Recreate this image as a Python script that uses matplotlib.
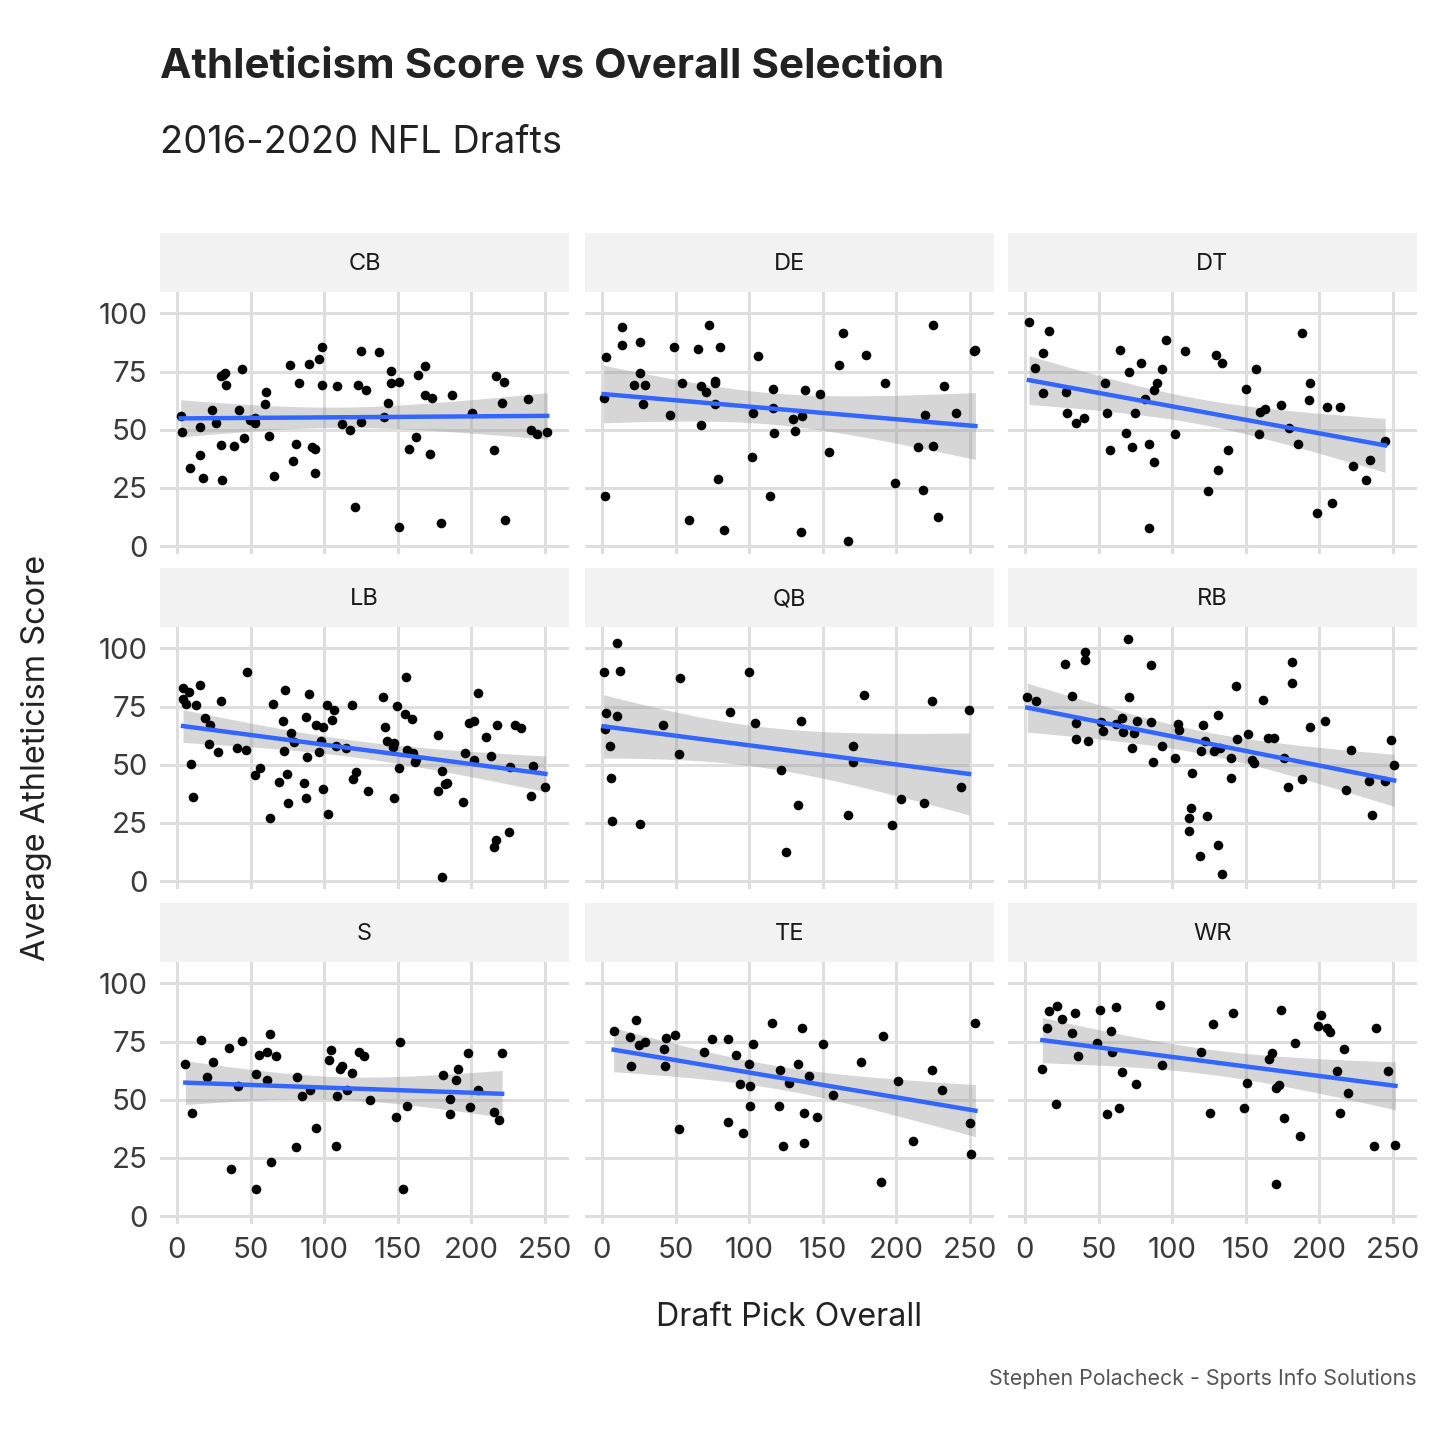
import numpy as np
import matplotlib
matplotlib.use("Agg")
import matplotlib.pyplot as plt

plt.rcParams['font.family'] = ['Inter', 'DejaVu Sans']

# --- data: draft pick overall vs average athleticism score ---
positions = ["CB", "DE", "DT", "LB", "QB", "RB", "S", "TE", "WR"]

cb_pick = [2.5, 3.6, 8.6, 15.4, 15.4, 17.4, 23.5, 26.5, 29.6, 30.3, 29.6, 32.6, 31.2, 33.5, 38.7, 42.1,
           44.3, 45.7, 49.3, 52.7, 52.7, 59.5, 60.6, 62.7, 65.6, 76.7, 78.5, 80.5, 82.8, 89.6, 91.4, 93.7,
           93.7, 96.6, 98.4, 98.6, 108.8, 112.2, 117.6, 120.8, 122.6, 124.7, 125.3, 128.7, 137.3, 140.7,
           143.4, 145.2, 145.2, 150.7, 150.7, 157.5, 162.2, 163.6, 168.6, 168.6, 172.9, 171.7, 179.6,
           186.7, 200.5, 215.6, 216.7, 222.0, 220.8, 222.6, 238.5, 240.5, 244.6, 251.4]
cb_score = [56.1, 49.0, 33.6, 51.1, 39.0, 29.1, 58.6, 52.9, 43.3, 28.3, 72.9, 74.6, 73.7, 69.3, 43.0, 58.7,
            76.1, 46.3, 54.0, 55.0, 53.0, 61.1, 66.1, 47.1, 30.3, 77.7, 36.4, 44.0, 70.3, 78.3, 42.6, 41.7,
            31.6, 80.6, 85.4, 69.4, 68.9, 52.3, 49.7, 16.6, 69.3, 53.3, 83.7, 67.3, 83.4, 55.6,
            61.6, 75.4, 69.9, 70.4, 8.3, 41.7, 47.0, 73.6, 77.6, 64.9, 63.6, 39.7, 10.1,
            64.9, 57.3, 41.3, 73.3, 70.6, 61.7, 11.1, 63.1, 50.0, 48.0, 49.0]

de_pick = [1.1, 2.7, 2.0, 13.8, 13.8, 25.8, 25.8, 21.7, 29.0, 27.8, 45.9, 48.6, 54.1, 59.0, 65.2, 67.2,
           70.4, 67.0, 72.9, 76.7, 76.7, 76.7, 80.1, 79.0, 82.8, 102.0, 102.9, 105.7, 113.8, 116.1, 116.1,
           117.0, 129.6, 131.0, 135.1, 136.0, 137.8, 148.2, 154.1, 160.9, 163.8, 167.2, 179.2, 192.1,
           199.1, 214.7, 217.9, 219.7, 225.1, 225.1, 228.5, 232.6, 240.7, 252.5, 253.6]
de_score = [63.7, 81.1, 21.4, 94.1, 86.4, 87.9, 74.4, 69.1, 69.3, 61.0, 56.4, 85.7, 70.3, 11.1, 84.9, 68.6,
            66.3, 52.1, 95.1, 71.1, 70.0, 60.9, 85.6, 28.7, 7.1, 38.3, 57.4, 81.9, 21.7, 67.7, 59.4,
            48.6, 54.6, 49.6, 6.0, 55.7, 66.9, 65.4, 40.3, 77.9, 91.4, 2.3, 82.1, 69.9,
            27.1, 42.4, 23.9, 56.4, 94.9, 42.9, 12.7, 68.7, 57.4, 83.7, 84.3]

dt_pick = [2.7, 6.8, 12.4, 12.4, 16.5, 27.6, 28.7, 34.4, 39.8, 54.3, 55.7, 57.7, 64.7, 68.8, 70.8, 72.6,
           74.9, 78.5, 81.7, 83.9, 83.9, 87.3, 89.6, 87.3, 92.8, 95.9, 101.8, 108.8, 124.4, 129.9, 133.7,
           130.8, 137.6, 149.8, 157.2, 158.8, 159.7, 162.9, 173.8, 179.6, 185.1, 188.2, 192.8, 193.7,
           198.0, 205.0, 208.6, 213.8, 222.9, 231.7, 234.6, 244.6]
dt_score = [96.3, 76.7, 83.1, 65.7, 92.4, 66.3, 57.3, 52.7, 55.0, 70.1, 57.3, 41.4, 84.1, 48.7, 74.7, 42.4,
            57.3, 78.6, 63.1, 44.0, 7.9, 67.1, 70.0, 36.0, 76.0, 88.6, 48.0, 83.7, 23.7, 82.0, 78.6,
            32.7, 41.1, 67.7, 76.1, 48.1, 57.7, 59.1, 60.6, 50.7, 44.0, 91.7, 62.9, 70.3,
            14.3, 59.9, 18.3, 59.9, 34.6, 28.3, 36.9, 45.1]

lb_pick = [4.1, 7.9, 4.1, 6.3, 12.7, 15.4, 9.3, 11.1, 18.8, 22.4, 21.5, 27.8, 29.6, 40.7, 46.6, 47.5,
           53.2, 56.6, 62.9, 64.9, 71.7, 73.5, 72.4, 77.6, 79.4, 74.7, 69.5, 75.6, 87.3, 89.6, 88.2, 86.4,
           87.3, 94.3, 99.1, 97.7, 96.6, 99.1, 101.6, 106.3, 105.4, 107.7, 102.7, 114.5, 118.6, 121.7,
           119.7, 129.6, 139.8, 141.6, 142.5, 147.3, 146.8, 147.5, 149.3, 150.5, 154.8, 155.7, 156.3,
           159.7, 160.2, 162.0, 161.8, 177.6, 180.3, 177.4, 182.1, 183.7, 180.3, 194.3, 195.5, 198.4,
           201.6, 201.6, 204.5, 210.0, 213.3, 217.4, 215.2, 216.7, 225.3, 226.2, 229.4, 233.9, 240.7,
           241.6, 250.2]
lb_score = [83.1, 81.1, 78.3, 76.1, 75.7, 84.3, 50.4, 36.1, 70.1, 67.1, 59.1, 55.4, 77.4, 57.3, 56.4, 90.0,
            45.7, 48.6, 27.0, 76.3, 68.9, 82.3, 56.0, 63.6, 59.7, 45.9, 42.7, 33.4, 70.7, 80.6, 53.4, 42.3,
            35.6, 66.9, 66.3, 60.1, 55.4, 39.4, 75.9, 73.6, 69.1, 58.0, 28.7, 57.3, 75.9, 46.9,
            43.7, 38.9, 79.0, 66.4, 60.4, 59.3, 57.7, 35.9, 75.3, 48.6, 72.0, 87.6, 56.4,
            69.7, 54.9, 52.6, 51.1, 62.6, 47.4, 38.6, 41.7, 42.3, 1.7, 34.1, 55.0, 68.1,
            68.9, 52.1, 81.0, 62.1, 53.6, 66.9, 14.6, 17.6, 21.1, 49.0, 67.0, 65.9, 36.7,
            49.4, 40.6]

qb_pick = [10.0, 1.1, 12.0, 2.5, 10.0, 2.0, 5.7, 5.9, 6.6, 25.8, 41.6, 52.7, 52.0, 86.9, 99.8, 104.1,
           121.9, 124.7, 132.8, 135.1, 167.0, 170.8, 170.8, 177.8, 196.8, 202.9, 219.0, 223.8, 243.9, 249.3]
qb_score = [102.3, 89.7, 90.3, 72.3, 70.9, 65.3, 57.9, 44.1, 25.9, 24.6, 66.9, 87.1, 54.7, 72.6, 89.7, 68.0,
            47.7, 12.3, 32.9, 68.9, 28.4, 58.1, 51.3, 79.9, 24.1, 35.4, 33.7, 77.3, 40.3, 73.4]

rb_pick = [1.6, 7.7, 26.9, 31.7, 34.6, 34.6, 40.7, 40.7, 42.5, 51.8, 52.7, 61.8, 65.6, 66.7, 69.7, 70.8,
           73.8, 75.8, 72.9, 85.9, 85.9, 86.7, 92.8, 101.8, 103.8, 104.5, 113.3, 112.7, 111.5, 111.5,
           118.8, 120.6, 122.2, 119.5, 123.8, 128.1, 130.8, 131.4, 132.6, 133.7, 139.6, 139.6, 143.0,
           143.9, 151.6, 154.1, 155.4, 161.5, 164.9, 169.0, 176.0, 178.9, 181.4, 181.4, 187.8, 193.9,
           203.6, 217.9, 221.3, 233.5, 236.0, 244.6, 248.9, 250.7]
rb_score = [79.3, 77.3, 93.4, 79.4, 67.9, 61.0, 98.3, 95.0, 60.1, 68.3, 64.3, 67.6, 70.1, 64.0, 104.1, 79.3,
            63.7, 68.6, 57.3, 92.7, 68.3, 51.1, 58.1, 53.1, 67.6, 64.9, 46.6, 31.6, 27.1, 21.6,
            10.6, 67.3, 60.0, 56.1, 28.0, 56.0, 15.6, 71.3, 57.3, 2.9, 52.9, 44.3, 84.0,
            61.1, 63.4, 52.1, 50.7, 77.7, 61.3, 61.7, 53.0, 40.4, 94.3, 85.0, 43.9, 66.3,
            69.0, 39.1, 56.4, 42.9, 28.3, 43.1, 60.6, 49.9]

s_pick = [5.7, 10.4, 16.5, 20.4, 24.4, 35.5, 36.4, 41.6, 44.3, 53.4, 53.4, 55.4, 60.9, 60.9, 62.9, 63.8,
          67.4, 80.5, 81.4, 84.6, 90.5, 94.3, 103.4, 104.5, 107.7, 108.8, 110.4, 112.2, 115.8, 118.6,
          123.3, 127.1, 131.4, 148.6, 151.6, 153.6, 156.3, 180.5, 185.7, 185.7, 189.4, 190.7, 197.7,
          198.9, 204.5, 215.6, 218.6, 220.8]
s_score = [65.3, 44.3, 75.7, 59.9, 66.3, 72.1, 20.3, 55.9, 75.1, 11.7, 61.1, 69.4, 70.6, 58.4, 78.4, 23.1,
           68.9, 29.6, 59.9, 51.6, 54.0, 37.9, 67.1, 71.3, 30.3, 51.7, 63.3, 64.7, 54.1, 61.4,
           70.4, 68.9, 49.9, 42.7, 74.9, 11.7, 47.3, 60.6, 50.3, 44.0, 58.4, 63.3, 70.1,
           46.9, 54.4, 44.6, 41.1, 70.0]

te_pick = [7.9, 19.0, 19.7, 23.1, 24.9, 29.0, 41.9, 43.0, 43.7, 49.8, 52.0, 69.0, 74.7, 85.7, 85.7, 91.2,
           93.7, 95.7, 100.0, 100.7, 100.7, 102.9, 115.2, 119.9, 120.8, 122.9, 126.7, 132.8, 136.0, 136.9,
           136.9, 140.7, 145.9, 149.8, 157.0, 175.8, 189.8, 190.7, 200.9, 210.9, 223.8, 230.8, 250.0,
           250.7, 253.6]
te_score = [79.4, 77.1, 64.3, 84.1, 73.7, 74.7, 71.7, 64.7, 76.6, 78.0, 37.3, 70.4, 76.0, 76.3, 40.4, 69.1,
            56.6, 35.6, 65.3, 56.0, 47.1, 74.1, 83.1, 47.4, 62.6, 30.1, 57.1, 65.3, 80.9, 44.3,
            31.3, 60.0, 42.7, 74.0, 52.0, 66.1, 14.6, 77.4, 58.0, 32.1, 62.7, 54.0, 39.9,
            26.7, 83.1]

wr_pick = [11.8, 14.7, 16.5, 21.7, 21.0, 24.9, 31.7, 33.9, 35.7, 48.6, 50.9, 55.7, 58.6, 58.8, 61.5, 64.0,
           65.6, 75.3, 91.6, 92.8, 119.5, 125.6, 127.8, 141.6, 148.6, 150.5, 165.8, 167.6, 170.4, 172.6,
           170.4, 173.8, 175.8, 183.5, 186.7, 199.1, 200.7, 205.4, 207.0, 211.8, 216.7, 213.6, 219.7,
           236.9, 238.5, 246.6, 251.6]
wr_score = [63.3, 81.0, 88.3, 90.1, 48.0, 84.6, 78.7, 87.4, 68.9, 74.4, 88.4, 43.7, 79.6, 70.6, 89.9, 46.4,
            62.0, 56.6, 90.6, 65.0, 70.4, 44.4, 82.6, 87.1, 46.4, 57.3, 67.4, 69.9, 55.0, 56.4,
            13.9, 88.7, 42.3, 74.6, 34.4, 81.6, 86.4, 80.9, 79.0, 62.3, 72.0, 44.1, 53.1,
            30.1, 80.7, 62.4, 30.7]

picks = [cb_pick, de_pick, dt_pick, lb_pick, qb_pick, rb_pick, s_pick, te_pick, wr_pick]
scores = [cb_score, de_score, dt_score, lb_score, qb_score, rb_score, s_score, te_score, wr_score]

x_ticks = [0, 50, 100, 150, 200, 250]
y_ticks = [0, 25, 50, 75, 100]

# --- layout (pixel boxes on a 1440x1440 canvas) ---
W = 1440.0
col_left = [160, 585, 1008]
col_w = 409
row_top = [292, 627, 962]
row_h = 262
strip_h = 59

text_col = '#222222'
tick_col = '#3a3a3a'
grid_col = '#dedede'

all_x = np.concatenate([np.array(p) for p in picks])
all_y = np.concatenate([np.array(s) for s in scores])
xr = all_x.max() - all_x.min()
yr = all_y.max() - all_y.min()
xlim = (all_x.min() - 0.05 * xr, all_x.max() + 0.05 * xr)
ylim = (all_y.min() - 0.05 * yr, all_y.max() + 0.05 * yr)

fig = plt.figure(figsize=(7.2, 7.2), dpi=200)


def box(left, top, w, h):
    return [left / W, 1 - (top + h) / W, w / W, h / W]


def t975(df):
    # approx 97.5% quantile of Student t
    return 1.95996 + 2.3719 / df + 2.8216 / df ** 2


for i, pos in enumerate(positions):
    r, c = divmod(i, 3)
    x = np.array(picks[i])
    y = np.array(scores[i])

    # strip
    sax = fig.add_axes(box(col_left[c], row_top[r] - strip_h, col_w, strip_h))
    sax.set_facecolor('#f2f2f2')
    sax.set_xticks([])
    sax.set_yticks([])
    for sp in sax.spines.values():
        sp.set_visible(False)
    sax.text(0.5, 0.47, pos, ha='center', va='center', fontsize=8.5, color='#1a1a1a',
             transform=sax.transAxes)

    ax = fig.add_axes(box(col_left[c], row_top[r], col_w, row_h))
    ax.set_xlim(xlim)
    ax.set_ylim(ylim)
    ax.set_xticks(x_ticks)
    ax.set_yticks(y_ticks)
    ax.grid(True, color=grid_col, linewidth=1.1)
    ax.set_axisbelow(True)
    for sp in ax.spines.values():
        sp.set_visible(False)
    ax.tick_params(length=0, labelsize=10.6, colors=tick_col, pad=4.5)
    if c != 0:
        ax.set_yticklabels([])
    if r != 2:
        ax.set_xticklabels([])

    # lm fit with 95% band
    n = len(x)
    b1, b0 = np.polyfit(x, y, 1)
    resid = y - (b0 + b1 * x)
    s = np.sqrt(np.sum(resid ** 2) / (n - 2))
    xbar = x.mean()
    sxx = np.sum((x - xbar) ** 2)
    xs = np.linspace(x.min(), x.max(), 80)
    yhat = b0 + b1 * xs
    se = s * np.sqrt(1.0 / n + (xs - xbar) ** 2 / sxx)
    tq = t975(n - 2)
    ax.fill_between(xs, yhat - tq * se, yhat + tq * se, color='#999999', alpha=0.4,
                    linewidth=0, zorder=2)
    ax.scatter(x, y, s=12, color='black', linewidths=0, zorder=3)
    ax.plot(xs, yhat, color='#3366FF', linewidth=1.6, zorder=4)

fig.text(160 / W, 1 - 78 / W, 'Athleticism Score vs Overall Selection', fontsize=15.2,
         fontweight='bold', color=text_col, ha='left', va='baseline')
fig.text(160 / W, 1 - 153 / W, '2016-2020 NFL Drafts', fontsize=13.7, color=text_col,
         ha='left', va='baseline')
fig.text(789 / W, 1 - 1318 / W, 'Draft Pick Overall', fontsize=11.6, color=text_col,
         ha='center', va='center')
fig.text(37 / W, 1 - 758 / W, 'Average Athleticism Score', fontsize=11.7, color=text_col,
         ha='center', va='center', rotation=90)
fig.text(1417 / W, 1 - 1385 / W, 'Stephen Polacheck - Sports Info Solutions', fontsize=7.7,
         color='#555555', ha='right', va='baseline')

fig.savefig('out.png', dpi=200, facecolor='white')
